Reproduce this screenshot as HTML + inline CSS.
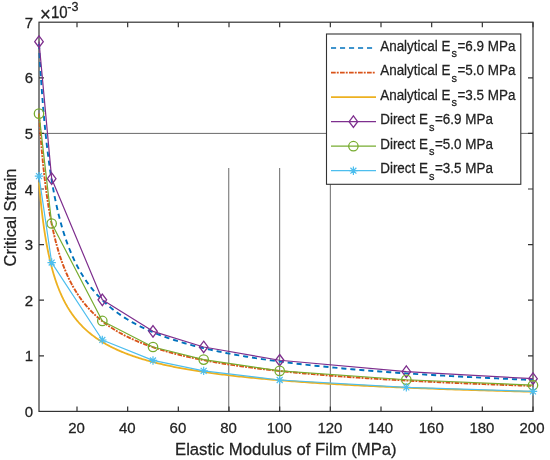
<!DOCTYPE html>
<html lang="en"><head><meta charset="utf-8"><title>Critical Strain vs Elastic Modulus of Film</title>
<style>html,body{margin:0;padding:0;background:#fff;}svg{display:block;}text{font-family:"Liberation Sans",Arial,Helvetica,sans-serif;fill:#222;stroke:#222;stroke-width:0.25px;}</style></head><body>
<svg width="550" height="460" viewBox="0 0 550 460">
<rect x="0" y="0" width="550" height="460" fill="#fff"/>
<g stroke="#6a6a6a" stroke-width="1" fill="none">
<line x1="39.0" y1="133.40" x2="533.0" y2="133.40"/>
<line x1="228.75" y1="168" x2="228.75" y2="411.4"/>
<line x1="279.67" y1="168" x2="279.67" y2="411.4"/>
<line x1="330.33" y1="168" x2="330.33" y2="411.4"/>
</g>
<g stroke="#333333" stroke-width="1.2" fill="none">
<rect x="39.0" y="22.2" width="494.0" height="389.2"/>
<path d="M77.00,411.4 v-5 M77.00,22.2 v5"/>
<path d="M127.67,411.4 v-5 M127.67,22.2 v5"/>
<path d="M178.33,411.4 v-5 M178.33,22.2 v5"/>
<path d="M229.00,411.4 v-5 M229.00,22.2 v5"/>
<path d="M279.67,411.4 v-5 M279.67,22.2 v5"/>
<path d="M330.33,411.4 v-5 M330.33,22.2 v5"/>
<path d="M381.00,411.4 v-5 M381.00,22.2 v5"/>
<path d="M431.67,411.4 v-5 M431.67,22.2 v5"/>
<path d="M482.33,411.4 v-5 M482.33,22.2 v5"/>
<path d="M533.00,411.4 v-5 M533.00,22.2 v5"/>
<path d="M39.0,355.80 h5 M533.0,355.80 h-5"/>
<path d="M39.0,300.20 h5 M533.0,300.20 h-5"/>
<path d="M39.0,244.60 h5 M533.0,244.60 h-5"/>
<path d="M39.0,189.00 h5 M533.0,189.00 h-5"/>
<path d="M39.0,133.40 h5 M533.0,133.40 h-5"/>
<path d="M39.0,77.80 h5 M533.0,77.80 h-5"/>
</g>
<defs><clipPath id="cp"><rect x="31.0" y="14.2" width="510.0" height="405.2"/></clipPath></defs>
<g fill="none" stroke-linejoin="round" clip-path="url(#cp)">
<path d="M39.00,44.06 L39.12,46.31 L39.24,48.55 L39.36,50.77 L39.48,52.98 L39.60,55.18 L39.72,57.36 L39.84,59.53 L39.97,61.69 L40.10,63.83 L40.22,65.96 L40.35,68.08 L40.48,70.18 L40.61,72.27 L40.75,74.35 L40.88,76.42 L41.01,78.47 L41.15,80.51 L41.29,82.54 L41.43,84.56 L41.57,86.56 L41.71,88.55 L41.85,90.53 L41.99,92.50 L42.14,94.45 L42.28,96.39 L42.43,98.32 L42.58,100.24 L42.73,102.15 L42.88,104.05 L43.04,105.93 L43.19,107.80 L43.35,109.66 L43.51,111.51 L43.66,113.35 L43.83,115.18 L43.99,116.99 L44.15,118.80 L44.32,120.59 L44.48,122.37 L44.65,124.14 L44.82,125.91 L44.99,127.66 L45.16,129.39 L45.34,131.12 L45.52,132.84 L45.69,134.55 L45.87,136.24 L46.05,137.93 L46.24,139.61 L46.42,141.27 L46.61,142.93 L46.79,144.57 L46.98,146.21 L47.18,147.84 L47.37,149.45 L47.56,151.06 L47.76,152.65 L47.96,154.24 L48.16,155.81 L48.36,157.38 L48.57,158.94 L48.77,160.49 L48.98,162.02 L49.19,163.55 L49.40,165.07 L49.61,166.58 L49.83,168.08 L50.05,169.57 L50.27,171.05 L50.49,172.53 L50.71,173.99 L50.94,175.45 L51.17,176.89 L51.40,178.33 L51.63,179.76 L51.86,181.18 L52.10,182.59 L52.34,183.99 L52.58,185.39 L52.82,186.77 L53.07,188.15 L53.32,189.52 L53.57,190.88 L53.82,192.23 L54.07,193.57 L54.33,194.91 L54.59,196.23 L54.85,197.55 L55.12,198.86 L55.38,200.17 L55.65,201.46 L55.92,202.75 L56.20,204.03 L56.47,205.30 L56.75,206.56 L57.03,207.82 L57.32,209.06 L57.61,210.30 L57.90,211.54 L58.19,212.76 L58.48,213.98 L58.78,215.19 L59.08,216.39 L59.39,217.59 L59.69,218.78 L60.00,219.96 L60.31,221.13 L60.63,222.30 L60.95,223.45 L61.27,224.61 L61.59,225.75 L61.92,226.89 L62.25,228.02 L62.58,229.14 L62.91,230.26 L63.25,231.37 L63.60,232.48 L63.94,233.57 L64.29,234.66 L64.64,235.75 L65.00,236.82 L65.35,237.89 L65.72,238.96 L66.08,240.01 L66.45,241.06 L66.82,242.11 L67.20,243.14 L67.57,244.18 L67.96,245.20 L68.34,246.22 L68.73,247.23 L69.12,248.24 L69.52,249.24 L69.92,250.23 L70.32,251.22 L70.73,252.20 L71.14,253.18 L71.56,254.15 L71.98,255.11 L72.40,256.07 L72.83,257.02 L73.26,257.97 L73.69,258.91 L74.13,259.84 L74.57,260.77 L75.02,261.69 L75.47,262.61 L75.93,263.52 L76.39,264.43 L76.85,265.33 L77.32,266.23 L77.79,267.12 L78.27,268.00 L78.75,268.88 L79.23,269.75 L79.72,270.62 L80.22,271.48 L80.72,272.34 L81.22,273.19 L81.73,274.04 L82.24,274.88 L82.76,275.72 L83.28,276.55 L83.81,277.38 L84.34,278.20 L84.88,279.02 L85.42,279.83 L85.97,280.63 L86.52,281.44 L87.08,282.23 L87.64,283.02 L88.21,283.81 L88.79,284.59 L89.36,285.37 L89.95,286.14 L90.54,286.91 L91.13,287.67 L91.73,288.43 L92.34,289.19 L92.95,289.93 L93.57,290.68 L94.19,291.42 L94.82,292.15 L95.45,292.88 L96.09,293.61 L96.74,294.33 L97.39,295.05 L98.05,295.76 L98.72,296.47 L99.39,297.18 L100.06,297.88 L100.75,298.57 L101.44,299.26 L102.13,299.95 L102.83,300.63 L103.54,301.31 L104.26,301.99 L104.98,302.66 L105.71,303.33 L106.44,303.99 L107.19,304.65 L107.94,305.30 L108.69,305.95 L109.45,306.60 L110.22,307.24 L111.00,307.88 L111.79,308.51 L112.58,309.14 L113.38,309.77 L114.18,310.39 L115.00,311.01 L115.82,311.63 L116.65,312.24 L117.48,312.85 L118.33,313.45 L119.18,314.05 L120.04,314.65 L120.91,315.24 L121.79,315.83 L122.67,316.42 L123.56,317.00 L124.46,317.58 L125.37,318.15 L126.29,318.72 L127.22,319.29 L128.15,319.86 L129.10,320.42 L130.05,320.97 L131.01,321.53 L131.98,322.08 L132.96,322.63 L133.94,323.17 L134.94,323.71 L135.95,324.25 L136.96,324.78 L137.99,325.31 L139.02,325.84 L140.07,326.37 L141.12,326.89 L142.18,327.41 L143.26,327.92 L144.34,328.43 L145.43,328.94 L146.54,329.45 L147.65,329.95 L148.78,330.45 L149.91,330.94 L151.05,331.44 L152.21,331.93 L153.38,332.41 L154.55,332.90 L155.74,333.38 L156.94,333.86 L158.15,334.33 L159.37,334.81 L160.60,335.28 L161.85,335.74 L163.10,336.21 L164.37,336.67 L165.65,337.12 L166.94,337.58 L168.24,338.03 L169.56,338.48 L170.88,338.93 L172.22,339.37 L173.58,339.81 L174.94,340.25 L176.32,340.69 L177.71,341.12 L179.11,341.55 L180.52,341.98 L181.95,342.41 L183.39,342.83 L184.85,343.25 L186.32,343.67 L187.80,344.08 L189.30,344.50 L190.81,344.91 L192.33,345.31 L193.87,345.72 L195.42,346.12 L196.99,346.52 L198.57,346.92 L200.16,347.31 L201.77,347.71 L203.40,348.10 L205.04,348.49 L206.70,348.87 L208.37,349.25 L210.05,349.63 L211.76,350.01 L213.47,350.39 L215.21,350.76 L216.96,351.14 L218.72,351.50 L220.51,351.87 L222.30,352.24 L224.12,352.60 L225.95,352.96 L227.80,353.32 L229.67,353.67 L231.55,354.03 L233.45,354.38 L235.37,354.73 L237.31,355.08 L239.26,355.42 L241.24,355.76 L243.23,356.11 L245.24,356.44 L247.27,356.78 L249.31,357.12 L251.38,357.45 L253.46,357.78 L255.57,358.11 L257.69,358.43 L259.83,358.76 L262.00,359.08 L264.18,359.40 L266.39,359.72 L268.61,360.04 L270.85,360.35 L273.12,360.67 L275.41,360.98 L277.71,361.29 L280.04,361.59 L282.39,361.90 L284.77,362.20 L287.16,362.50 L289.58,362.80 L292.02,363.10 L294.48,363.40 L296.96,363.69 L299.47,363.98 L302.00,364.27 L304.55,364.56 L307.13,364.85 L309.73,365.14 L312.36,365.42 L315.01,365.70 L317.68,365.98 L320.38,366.26 L323.11,366.54 L325.86,366.81 L328.63,367.08 L331.43,367.36 L334.26,367.63 L337.11,367.89 L339.99,368.16 L342.90,368.43 L345.83,368.69 L348.79,368.95 L351.78,369.21 L354.79,369.47 L357.83,369.73 L360.91,369.98 L364.01,370.24 L367.13,370.49 L370.29,370.74 L373.48,370.99 L376.69,371.24 L379.94,371.48 L383.22,371.73 L386.52,371.97 L389.86,372.21 L393.23,372.45 L396.63,372.69 L400.06,372.93 L403.52,373.16 L407.02,373.40 L410.54,373.63 L414.10,373.86 L417.69,374.09 L421.32,374.32 L424.98,374.55 L428.67,374.77 L432.40,375.00 L436.16,375.22 L439.96,375.44 L443.79,375.66 L447.66,375.88 L451.56,376.10 L455.50,376.32 L459.48,376.53 L463.49,376.75 L467.54,376.96 L471.63,377.17 L475.76,377.38 L479.92,377.59 L484.12,377.80 L488.36,378.00 L492.64,378.21 L496.96,378.41 L501.33,378.61 L505.73,378.81 L510.17,379.01 L514.65,379.21 L519.17,379.41 L523.74,379.60 L528.35,379.80 L533.00,379.99" stroke="#0072BD" stroke-width="1.9" stroke-dasharray="5.1 3.9"/>
<path d="M39.00,113.59 L39.12,115.42 L39.24,117.23 L39.36,119.04 L39.48,120.83 L39.60,122.61 L39.72,124.38 L39.84,126.14 L39.97,127.89 L40.10,129.63 L40.22,131.35 L40.35,133.07 L40.48,134.77 L40.61,136.47 L40.75,138.16 L40.88,139.83 L41.01,141.49 L41.15,143.15 L41.29,144.79 L41.43,146.43 L41.57,148.05 L41.71,149.67 L41.85,151.27 L41.99,152.86 L42.14,154.45 L42.28,156.02 L42.43,157.59 L42.58,159.14 L42.73,160.69 L42.88,162.23 L43.04,163.75 L43.19,165.27 L43.35,166.78 L43.51,168.28 L43.66,169.77 L43.83,171.25 L43.99,172.72 L44.15,174.19 L44.32,175.64 L44.48,177.09 L44.65,178.52 L44.82,179.95 L44.99,181.37 L45.16,182.78 L45.34,184.18 L45.52,185.57 L45.69,186.96 L45.87,188.33 L46.05,189.70 L46.24,191.06 L46.42,192.41 L46.61,193.75 L46.79,195.08 L46.98,196.41 L47.18,197.73 L47.37,199.04 L47.56,200.34 L47.76,201.63 L47.96,202.92 L48.16,204.20 L48.36,205.47 L48.57,206.73 L48.77,207.98 L48.98,209.23 L49.19,210.47 L49.40,211.70 L49.61,212.92 L49.83,214.14 L50.05,215.35 L50.27,216.55 L50.49,217.75 L50.71,218.93 L50.94,220.11 L51.17,221.29 L51.40,222.45 L51.63,223.61 L51.86,224.76 L52.10,225.90 L52.34,227.04 L52.58,228.17 L52.82,229.29 L53.07,230.41 L53.32,231.52 L53.57,232.62 L53.82,233.72 L54.07,234.81 L54.33,235.89 L54.59,236.96 L54.85,238.03 L55.12,239.10 L55.38,240.15 L55.65,241.20 L55.92,242.25 L56.20,243.28 L56.47,244.31 L56.75,245.34 L57.03,246.35 L57.32,247.37 L57.61,248.37 L57.90,249.37 L58.19,250.36 L58.48,251.35 L58.78,252.33 L59.08,253.31 L59.39,254.28 L59.69,255.24 L60.00,256.20 L60.31,257.15 L60.63,258.09 L60.95,259.03 L61.27,259.97 L61.59,260.89 L61.92,261.82 L62.25,262.73 L62.58,263.65 L62.91,264.55 L63.25,265.45 L63.60,266.35 L63.94,267.23 L64.29,268.12 L64.64,269.00 L65.00,269.87 L65.35,270.74 L65.72,271.60 L66.08,272.46 L66.45,273.31 L66.82,274.15 L67.20,275.00 L67.57,275.83 L67.96,276.66 L68.34,277.49 L68.73,278.31 L69.12,279.12 L69.52,279.94 L69.92,280.74 L70.32,281.54 L70.73,282.34 L71.14,283.13 L71.56,283.92 L71.98,284.70 L72.40,285.47 L72.83,286.24 L73.26,287.01 L73.69,287.77 L74.13,288.53 L74.57,289.29 L75.02,290.03 L75.47,290.78 L75.93,291.52 L76.39,292.25 L76.85,292.98 L77.32,293.71 L77.79,294.43 L78.27,295.15 L78.75,295.86 L79.23,296.57 L79.72,297.27 L80.22,297.97 L80.72,298.67 L81.22,299.36 L81.73,300.04 L82.24,300.73 L82.76,301.40 L83.28,302.08 L83.81,302.75 L84.34,303.41 L84.88,304.08 L85.42,304.73 L85.97,305.39 L86.52,306.04 L87.08,306.68 L87.64,307.33 L88.21,307.96 L88.79,308.60 L89.36,309.23 L89.95,309.85 L90.54,310.48 L91.13,311.09 L91.73,311.71 L92.34,312.32 L92.95,312.93 L93.57,313.53 L94.19,314.13 L94.82,314.73 L95.45,315.32 L96.09,315.91 L96.74,316.49 L97.39,317.08 L98.05,317.65 L98.72,318.23 L99.39,318.80 L100.06,319.37 L100.75,319.93 L101.44,320.49 L102.13,321.05 L102.83,321.60 L103.54,322.15 L104.26,322.70 L104.98,323.24 L105.71,323.78 L106.44,324.32 L107.19,324.85 L107.94,325.39 L108.69,325.91 L109.45,326.44 L110.22,326.96 L111.00,327.47 L111.79,327.99 L112.58,328.50 L113.38,329.01 L114.18,329.51 L115.00,330.02 L115.82,330.51 L116.65,331.01 L117.48,331.50 L118.33,331.99 L119.18,332.48 L120.04,332.96 L120.91,333.44 L121.79,333.92 L122.67,334.40 L123.56,334.87 L124.46,335.34 L125.37,335.80 L126.29,336.27 L127.22,336.73 L128.15,337.19 L129.10,337.64 L130.05,338.09 L131.01,338.54 L131.98,338.99 L132.96,339.43 L133.94,339.87 L134.94,340.31 L135.95,340.75 L136.96,341.18 L137.99,341.61 L139.02,342.04 L140.07,342.46 L141.12,342.89 L142.18,343.31 L143.26,343.72 L144.34,344.14 L145.43,344.55 L146.54,344.96 L147.65,345.37 L148.78,345.77 L149.91,346.17 L151.05,346.57 L152.21,346.97 L153.38,347.37 L154.55,347.76 L155.74,348.15 L156.94,348.54 L158.15,348.92 L159.37,349.30 L160.60,349.69 L161.85,350.06 L163.10,350.44 L164.37,350.81 L165.65,351.18 L166.94,351.55 L168.24,351.92 L169.56,352.29 L170.88,352.65 L172.22,353.01 L173.58,353.37 L174.94,353.72 L176.32,354.07 L177.71,354.43 L179.11,354.78 L180.52,355.12 L181.95,355.47 L183.39,355.81 L184.85,356.15 L186.32,356.49 L187.80,356.83 L189.30,357.16 L190.81,357.49 L192.33,357.82 L193.87,358.15 L195.42,358.48 L196.99,358.80 L198.57,359.12 L200.16,359.45 L201.77,359.76 L203.40,360.08 L205.04,360.39 L206.70,360.71 L208.37,361.02 L210.05,361.33 L211.76,361.63 L213.47,361.94 L215.21,362.24 L216.96,362.54 L218.72,362.84 L220.51,363.14 L222.30,363.44 L224.12,363.73 L225.95,364.02 L227.80,364.31 L229.67,364.60 L231.55,364.89 L233.45,365.17 L235.37,365.46 L237.31,365.74 L239.26,366.02 L241.24,366.30 L243.23,366.57 L245.24,366.85 L247.27,367.12 L249.31,367.39 L251.38,367.66 L253.46,367.93 L255.57,368.20 L257.69,368.46 L259.83,368.72 L262.00,368.99 L264.18,369.25 L266.39,369.50 L268.61,369.76 L270.85,370.02 L273.12,370.27 L275.41,370.52 L277.71,370.77 L280.04,371.02 L282.39,371.27 L284.77,371.51 L287.16,371.76 L289.58,372.00 L292.02,372.24 L294.48,372.48 L296.96,372.72 L299.47,372.96 L302.00,373.20 L304.55,373.43 L307.13,373.66 L309.73,373.89 L312.36,374.12 L315.01,374.35 L317.68,374.58 L320.38,374.80 L323.11,375.03 L325.86,375.25 L328.63,375.47 L331.43,375.69 L334.26,375.91 L337.11,376.13 L339.99,376.35 L342.90,376.56 L345.83,376.77 L348.79,376.99 L351.78,377.20 L354.79,377.41 L357.83,377.62 L360.91,377.82 L364.01,378.03 L367.13,378.23 L370.29,378.44 L373.48,378.64 L376.69,378.84 L379.94,379.04 L383.22,379.24 L386.52,379.43 L389.86,379.63 L393.23,379.82 L396.63,380.02 L400.06,380.21 L403.52,380.40 L407.02,380.59 L410.54,380.78 L414.10,380.97 L417.69,381.15 L421.32,381.34 L424.98,381.52 L428.67,381.71 L432.40,381.89 L436.16,382.07 L439.96,382.25 L443.79,382.43 L447.66,382.61 L451.56,382.78 L455.50,382.96 L459.48,383.13 L463.49,383.31 L467.54,383.48 L471.63,383.65 L475.76,383.82 L479.92,383.99 L484.12,384.16 L488.36,384.32 L492.64,384.49 L496.96,384.65 L501.33,384.82 L505.73,384.98 L510.17,385.14 L514.65,385.30 L519.17,385.46 L523.74,385.62 L528.35,385.78 L533.00,385.94" stroke="#D95319" stroke-width="1.9" stroke-dasharray="4.7 1.1 1.9 1.3"/>
<path d="M39.00,182.32 L39.12,183.72 L39.24,185.12 L39.36,186.50 L39.48,187.88 L39.60,189.25 L39.72,190.61 L39.84,191.97 L39.97,193.31 L40.10,194.65 L40.22,195.98 L40.35,197.30 L40.48,198.61 L40.61,199.91 L40.75,201.21 L40.88,202.50 L41.01,203.78 L41.15,205.05 L41.29,206.32 L41.43,207.57 L41.57,208.82 L41.71,210.06 L41.85,211.30 L41.99,212.52 L42.14,213.74 L42.28,214.95 L42.43,216.16 L42.58,217.36 L42.73,218.54 L42.88,219.73 L43.04,220.90 L43.19,222.07 L43.35,223.23 L43.51,224.38 L43.66,225.53 L43.83,226.67 L43.99,227.80 L44.15,228.93 L44.32,230.04 L44.48,231.16 L44.65,232.26 L44.82,233.36 L44.99,234.45 L45.16,235.53 L45.34,236.61 L45.52,237.68 L45.69,238.75 L45.87,239.81 L46.05,240.86 L46.24,241.90 L46.42,242.94 L46.61,243.98 L46.79,245.00 L46.98,246.02 L47.18,247.04 L47.37,248.04 L47.56,249.04 L47.76,250.04 L47.96,251.03 L48.16,252.01 L48.36,252.99 L48.57,253.96 L48.77,254.92 L48.98,255.88 L49.19,256.84 L49.40,257.78 L49.61,258.73 L49.83,259.66 L50.05,260.59 L50.27,261.52 L50.49,262.43 L50.71,263.35 L50.94,264.25 L51.17,265.16 L51.40,266.05 L51.63,266.94 L51.86,267.83 L52.10,268.71 L52.34,269.58 L52.58,270.45 L52.82,271.32 L53.07,272.18 L53.32,273.03 L53.57,273.88 L53.82,274.72 L54.07,275.56 L54.33,276.39 L54.59,277.22 L54.85,278.04 L55.12,278.86 L55.38,279.67 L55.65,280.48 L55.92,281.28 L56.20,282.08 L56.47,282.87 L56.75,283.66 L57.03,284.44 L57.32,285.22 L57.61,285.99 L57.90,286.76 L58.19,287.52 L58.48,288.28 L58.78,289.04 L59.08,289.79 L59.39,290.53 L59.69,291.28 L60.00,292.01 L60.31,292.74 L60.63,293.47 L60.95,294.19 L61.27,294.91 L61.59,295.63 L61.92,296.34 L62.25,297.04 L62.58,297.74 L62.91,298.44 L63.25,299.13 L63.60,299.82 L63.94,300.50 L64.29,301.18 L64.64,301.86 L65.00,302.53 L65.35,303.20 L65.72,303.86 L66.08,304.52 L66.45,305.17 L66.82,305.82 L67.20,306.47 L67.57,307.12 L67.96,307.75 L68.34,308.39 L68.73,309.02 L69.12,309.65 L69.52,310.27 L69.92,310.89 L70.32,311.51 L70.73,312.12 L71.14,312.73 L71.56,313.33 L71.98,313.93 L72.40,314.53 L72.83,315.13 L73.26,315.72 L73.69,316.30 L74.13,316.89 L74.57,317.46 L75.02,318.04 L75.47,318.61 L75.93,319.18 L76.39,319.75 L76.85,320.31 L77.32,320.87 L77.79,321.42 L78.27,321.97 L78.75,322.52 L79.23,323.07 L79.72,323.61 L80.22,324.15 L80.72,324.68 L81.22,325.21 L81.73,325.74 L82.24,326.27 L82.76,326.79 L83.28,327.31 L83.81,327.82 L84.34,328.33 L84.88,328.84 L85.42,329.35 L85.97,329.85 L86.52,330.35 L87.08,330.85 L87.64,331.34 L88.21,331.83 L88.79,332.32 L89.36,332.80 L89.95,333.29 L90.54,333.77 L91.13,334.24 L91.73,334.71 L92.34,335.18 L92.95,335.65 L93.57,336.12 L94.19,336.58 L94.82,337.04 L95.45,337.49 L96.09,337.94 L96.74,338.39 L97.39,338.84 L98.05,339.29 L98.72,339.73 L99.39,340.17 L100.06,340.60 L100.75,341.04 L101.44,341.47 L102.13,341.90 L102.83,342.32 L103.54,342.75 L104.26,343.17 L104.98,343.59 L105.71,344.00 L106.44,344.42 L107.19,344.83 L107.94,345.23 L108.69,345.64 L109.45,346.04 L110.22,346.44 L111.00,346.84 L111.79,347.24 L112.58,347.63 L113.38,348.02 L114.18,348.41 L115.00,348.80 L115.82,349.18 L116.65,349.56 L117.48,349.94 L118.33,350.32 L119.18,350.69 L120.04,351.06 L120.91,351.43 L121.79,351.80 L122.67,352.17 L123.56,352.53 L124.46,352.89 L125.37,353.25 L126.29,353.60 L127.22,353.96 L128.15,354.31 L129.10,354.66 L130.05,355.01 L131.01,355.35 L131.98,355.70 L132.96,356.04 L133.94,356.38 L134.94,356.72 L135.95,357.05 L136.96,357.38 L137.99,357.72 L139.02,358.04 L140.07,358.37 L141.12,358.70 L142.18,359.02 L143.26,359.34 L144.34,359.66 L145.43,359.98 L146.54,360.29 L147.65,360.61 L148.78,360.92 L149.91,361.23 L151.05,361.53 L152.21,361.84 L153.38,362.14 L154.55,362.44 L155.74,362.74 L156.94,363.04 L158.15,363.34 L159.37,363.63 L160.60,363.93 L161.85,364.22 L163.10,364.51 L164.37,364.79 L165.65,365.08 L166.94,365.36 L168.24,365.65 L169.56,365.93 L170.88,366.21 L172.22,366.48 L173.58,366.76 L174.94,367.03 L176.32,367.30 L177.71,367.57 L179.11,367.84 L180.52,368.11 L181.95,368.37 L183.39,368.64 L184.85,368.90 L186.32,369.16 L187.80,369.42 L189.30,369.68 L190.81,369.93 L192.33,370.19 L193.87,370.44 L195.42,370.69 L196.99,370.94 L198.57,371.19 L200.16,371.43 L201.77,371.68 L203.40,371.92 L205.04,372.16 L206.70,372.41 L208.37,372.64 L210.05,372.88 L211.76,373.12 L213.47,373.35 L215.21,373.59 L216.96,373.82 L218.72,374.05 L220.51,374.28 L222.30,374.50 L224.12,374.73 L225.95,374.96 L227.80,375.18 L229.67,375.40 L231.55,375.62 L233.45,375.84 L235.37,376.06 L237.31,376.28 L239.26,376.49 L241.24,376.70 L243.23,376.92 L245.24,377.13 L247.27,377.34 L249.31,377.55 L251.38,377.75 L253.46,377.96 L255.57,378.17 L257.69,378.37 L259.83,378.57 L262.00,378.77 L264.18,378.97 L266.39,379.17 L268.61,379.37 L270.85,379.57 L273.12,379.76 L275.41,379.96 L277.71,380.15 L280.04,380.34 L282.39,380.53 L284.77,380.72 L287.16,380.91 L289.58,381.09 L292.02,381.28 L294.48,381.46 L296.96,381.65 L299.47,381.83 L302.00,382.01 L304.55,382.19 L307.13,382.37 L309.73,382.55 L312.36,382.73 L315.01,382.90 L317.68,383.08 L320.38,383.25 L323.11,383.42 L325.86,383.59 L328.63,383.76 L331.43,383.93 L334.26,384.10 L337.11,384.27 L339.99,384.44 L342.90,384.60 L345.83,384.76 L348.79,384.93 L351.78,385.09 L354.79,385.25 L357.83,385.41 L360.91,385.57 L364.01,385.73 L367.13,385.89 L370.29,386.04 L373.48,386.20 L376.69,386.35 L379.94,386.51 L383.22,386.66 L386.52,386.81 L389.86,386.96 L393.23,387.11 L396.63,387.26 L400.06,387.41 L403.52,387.56 L407.02,387.70 L410.54,387.85 L414.10,387.99 L417.69,388.13 L421.32,388.28 L424.98,388.42 L428.67,388.56 L432.40,388.70 L436.16,388.84 L439.96,388.98 L443.79,389.11 L447.66,389.25 L451.56,389.39 L455.50,389.52 L459.48,389.66 L463.49,389.79 L467.54,389.92 L471.63,390.05 L475.76,390.18 L479.92,390.31 L484.12,390.44 L488.36,390.57 L492.64,390.70 L496.96,390.83 L501.33,390.95 L505.73,391.08 L510.17,391.20 L514.65,391.33 L519.17,391.45 L523.74,391.57 L528.35,391.69 L533.00,391.81" stroke="#EDB120" stroke-width="1.8"/>
<path d="M39.00,41.67 L51.67,178.66 L102.33,299.80 L153.00,331.31 L203.67,346.98 L279.67,360.26 L406.33,371.71 L533.00,378.71" stroke="#7E2F8E" stroke-width="1.2"/>
<path d="M39.00,35.92 L43.30,41.67 L39.00,47.42 L34.70,41.67 Z" stroke="#7E2F8E" stroke-width="1.3" fill="none" stroke-linejoin="miter"/>
<path d="M51.67,172.91 L55.97,178.66 L51.67,184.41 L47.37,178.66 Z" stroke="#7E2F8E" stroke-width="1.3" fill="none" stroke-linejoin="miter"/>
<path d="M102.33,294.05 L106.63,299.80 L102.33,305.55 L98.03,299.80 Z" stroke="#7E2F8E" stroke-width="1.3" fill="none" stroke-linejoin="miter"/>
<path d="M153.00,325.56 L157.30,331.31 L153.00,337.06 L148.70,331.31 Z" stroke="#7E2F8E" stroke-width="1.3" fill="none" stroke-linejoin="miter"/>
<path d="M203.67,341.23 L207.97,346.98 L203.67,352.73 L199.37,346.98 Z" stroke="#7E2F8E" stroke-width="1.3" fill="none" stroke-linejoin="miter"/>
<path d="M279.67,354.51 L283.97,360.26 L279.67,366.01 L275.37,360.26 Z" stroke="#7E2F8E" stroke-width="1.3" fill="none" stroke-linejoin="miter"/>
<path d="M406.33,365.96 L410.63,371.71 L406.33,377.46 L402.03,371.71 Z" stroke="#7E2F8E" stroke-width="1.3" fill="none" stroke-linejoin="miter"/>
<path d="M533.00,372.96 L537.30,378.71 L533.00,384.46 L528.70,378.71 Z" stroke="#7E2F8E" stroke-width="1.3" fill="none" stroke-linejoin="miter"/>
<path d="M39.00,113.64 L51.67,223.50 L102.33,320.92 L153.00,346.98 L203.67,359.60 L279.67,370.88 L406.33,379.77 L533.00,385.21" stroke="#77AC30" stroke-width="1.2"/>
<circle cx="39.00" cy="113.64" r="4.7" stroke="#77AC30" stroke-width="1.3" fill="none"/>
<circle cx="51.67" cy="223.50" r="4.7" stroke="#77AC30" stroke-width="1.3" fill="none"/>
<circle cx="102.33" cy="320.92" r="4.7" stroke="#77AC30" stroke-width="1.3" fill="none"/>
<circle cx="153.00" cy="346.98" r="4.7" stroke="#77AC30" stroke-width="1.3" fill="none"/>
<circle cx="203.67" cy="359.60" r="4.7" stroke="#77AC30" stroke-width="1.3" fill="none"/>
<circle cx="279.67" cy="370.88" r="4.7" stroke="#77AC30" stroke-width="1.3" fill="none"/>
<circle cx="406.33" cy="379.77" r="4.7" stroke="#77AC30" stroke-width="1.3" fill="none"/>
<circle cx="533.00" cy="385.21" r="4.7" stroke="#77AC30" stroke-width="1.3" fill="none"/>
<path d="M39.00,176.10 L51.67,262.57 L102.33,339.98 L153.00,360.43 L203.67,370.88 L279.67,379.99 L406.33,387.38 L533.00,391.33" stroke="#4DBEEE" stroke-width="1.2"/>
<path d="M34.80,176.10 H43.20 M39.00,171.90 V180.30 M36.03,173.13 L41.97,179.07 M36.03,179.07 L41.97,173.13" stroke="#4DBEEE" stroke-width="1.2" fill="none"/>
<path d="M47.47,262.57 H55.87 M51.67,258.37 V266.77 M48.70,259.60 L54.64,265.54 M48.70,265.54 L54.64,259.60" stroke="#4DBEEE" stroke-width="1.2" fill="none"/>
<path d="M98.13,339.98 H106.53 M102.33,335.78 V344.18 M99.36,337.01 L105.30,342.95 M99.36,342.95 L105.30,337.01" stroke="#4DBEEE" stroke-width="1.2" fill="none"/>
<path d="M148.80,360.43 H157.20 M153.00,356.23 V364.63 M150.03,357.46 L155.97,363.40 M150.03,363.40 L155.97,357.46" stroke="#4DBEEE" stroke-width="1.2" fill="none"/>
<path d="M199.47,370.88 H207.87 M203.67,366.68 V375.08 M200.70,367.91 L206.64,373.85 M200.70,373.85 L206.64,367.91" stroke="#4DBEEE" stroke-width="1.2" fill="none"/>
<path d="M275.47,379.99 H283.87 M279.67,375.79 V384.19 M276.70,377.02 L282.64,382.96 M276.70,382.96 L282.64,377.02" stroke="#4DBEEE" stroke-width="1.2" fill="none"/>
<path d="M402.13,387.38 H410.53 M406.33,383.18 V391.58 M403.36,384.41 L409.30,390.35 M403.36,390.35 L409.30,384.41" stroke="#4DBEEE" stroke-width="1.2" fill="none"/>
<path d="M528.80,391.33 H537.20 M533.00,387.13 V395.53 M530.03,388.36 L535.97,394.30 M530.03,394.30 L535.97,388.36" stroke="#4DBEEE" stroke-width="1.2" fill="none"/>
</g>
<text transform="translate(76.60,433.00) scale(1,1.01)" font-size="15" text-anchor="middle">20</text>
<text transform="translate(127.27,433.00) scale(1,1.01)" font-size="15" text-anchor="middle">40</text>
<text transform="translate(177.93,433.00) scale(1,1.01)" font-size="15" text-anchor="middle">60</text>
<text transform="translate(228.60,433.00) scale(1,1.01)" font-size="15" text-anchor="middle">80</text>
<text transform="translate(279.27,433.00) scale(1,1.01)" font-size="15" text-anchor="middle">100</text>
<text transform="translate(329.93,433.00) scale(1,1.01)" font-size="15" text-anchor="middle">120</text>
<text transform="translate(380.60,433.00) scale(1,1.01)" font-size="15" text-anchor="middle">140</text>
<text transform="translate(431.27,433.00) scale(1,1.01)" font-size="15" text-anchor="middle">160</text>
<text transform="translate(481.93,433.00) scale(1,1.01)" font-size="15" text-anchor="middle">180</text>
<text transform="translate(532.00,433.00) scale(1,1.01)" font-size="15" text-anchor="middle">200</text>
<text transform="translate(33.20,417.00) scale(1,1.01)" font-size="15" text-anchor="end">0</text>
<text transform="translate(33.20,361.40) scale(1,1.01)" font-size="15" text-anchor="end">1</text>
<text transform="translate(33.20,305.80) scale(1,1.01)" font-size="15" text-anchor="end">2</text>
<text transform="translate(33.20,250.20) scale(1,1.01)" font-size="15" text-anchor="end">3</text>
<text transform="translate(33.20,194.60) scale(1,1.01)" font-size="15" text-anchor="end">4</text>
<text transform="translate(33.20,139.00) scale(1,1.01)" font-size="15" text-anchor="end">5</text>
<text transform="translate(33.20,83.40) scale(1,1.01)" font-size="15" text-anchor="end">6</text>
<text transform="translate(33.20,27.80) scale(1,1.01)" font-size="15" text-anchor="end">7</text>
<text transform="translate(39.97,20.57) scale(1,1.045)" font-size="18.5">×</text>
<text transform="translate(51.00,18.40) scale(1,1.045)" font-size="15">10</text>
<text transform="translate(67.30,11.40) scale(1,1.045)" font-size="12.6">-3</text>
<text transform="translate(285.80,454.50) scale(1,1.03)" font-size="16.7" text-anchor="middle">Elastic Modulus of Film (MPa)</text>
<text transform="translate(15.90,217.50) rotate(-90) scale(1,1.03)" font-size="16.5" text-anchor="middle">Critical Strain</text>
<rect x="326.5" y="34.0" width="194.29999999999995" height="150.3" fill="#fff" stroke="#333333" stroke-width="1.1"/>
<line x1="331" y1="48.05" x2="376" y2="48.05" stroke="#0072BD" stroke-width="1.6" stroke-dasharray="5.1 3.9"/>
<text transform="translate(380.20,50.60) scale(1,1.045)" font-size="13.45">Analytical E<tspan x="71.27" dy="6.32" font-size="11">s</tspan><tspan x="77.27" dy="-6.32">=6.9 MPa</tspan></text>
<line x1="331" y1="72.58" x2="376" y2="72.58" stroke="#D95319" stroke-width="1.7" stroke-dasharray="4.7 1.1 1.9 1.3"/>
<text transform="translate(380.20,75.13) scale(1,1.045)" font-size="13.45">Analytical E<tspan x="71.27" dy="6.32" font-size="11">s</tspan><tspan x="77.27" dy="-6.32">=5.0 MPa</tspan></text>
<line x1="331" y1="97.11" x2="376" y2="97.11" stroke="#EDB120" stroke-width="1.6"/>
<text transform="translate(380.20,99.66) scale(1,1.045)" font-size="13.45">Analytical E<tspan x="71.27" dy="6.32" font-size="11">s</tspan><tspan x="77.27" dy="-6.32">=3.5 MPa</tspan></text>
<line x1="331" y1="121.64" x2="376" y2="121.64" stroke="#7E2F8E" stroke-width="1.2"/>
<path d="M353.40,115.89 L357.70,121.64 L353.40,127.39 L349.10,121.64 Z" stroke="#7E2F8E" stroke-width="1.3" fill="none" stroke-linejoin="miter"/>
<text transform="translate(380.20,124.19) scale(1,1.045)" font-size="13.45">Direct E<tspan x="48.83" dy="6.32" font-size="11">s</tspan><tspan x="54.83" dy="-6.32">=6.9 MPa</tspan></text>
<line x1="331" y1="146.17" x2="376" y2="146.17" stroke="#77AC30" stroke-width="1.2"/>
<circle cx="353.40" cy="146.17" r="4.7" stroke="#77AC30" stroke-width="1.3" fill="none"/>
<text transform="translate(380.20,148.72) scale(1,1.045)" font-size="13.45">Direct E<tspan x="48.83" dy="6.32" font-size="11">s</tspan><tspan x="54.83" dy="-6.32">=5.0 MPa</tspan></text>
<line x1="331" y1="170.70" x2="376" y2="170.70" stroke="#4DBEEE" stroke-width="1.2"/>
<path d="M349.20,170.70 H357.60 M353.40,166.50 V174.90 M350.43,167.73 L356.37,173.67 M350.43,173.67 L356.37,167.73" stroke="#4DBEEE" stroke-width="1.2" fill="none"/>
<text transform="translate(380.20,173.25) scale(1,1.045)" font-size="13.45">Direct E<tspan x="48.83" dy="6.32" font-size="11">s</tspan><tspan x="54.83" dy="-6.32">=3.5 MPa</tspan></text>
</svg></body></html>
